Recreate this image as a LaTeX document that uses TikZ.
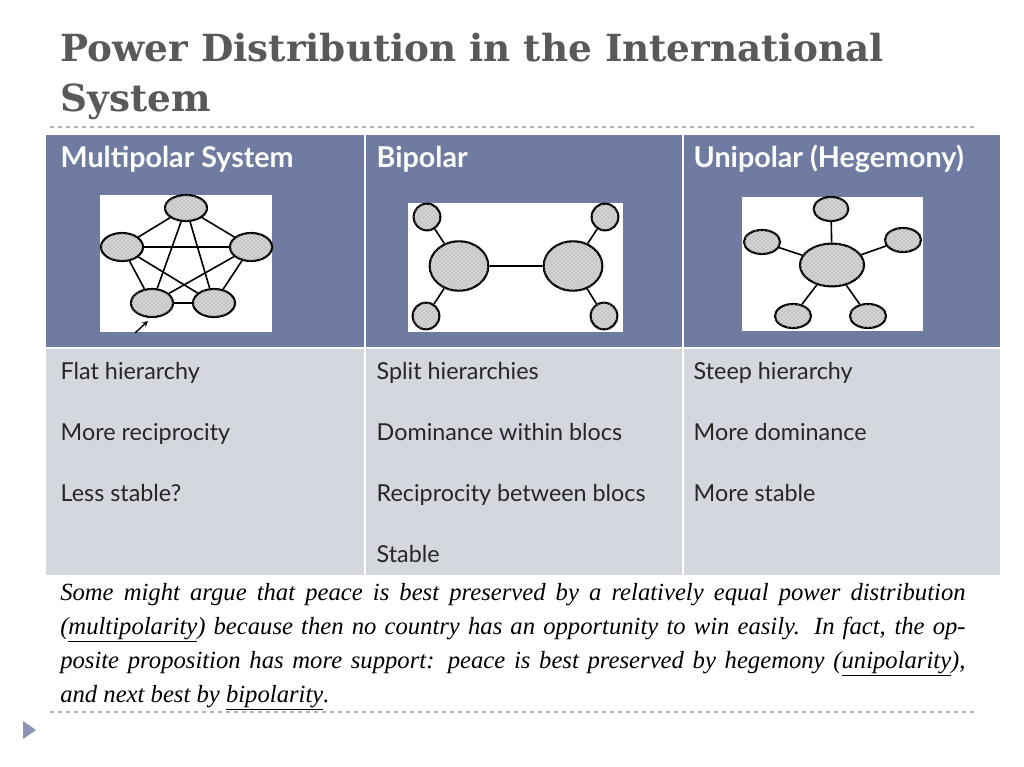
\documentclass[tikz,border=0pt]{standalone}
\usepackage{fontspec}
\setmainfont{Liberation Serif}
\setsansfont{Lato}
\newfontfamily\ttlfont{DejaVu Serif}
\usetikzlibrary{patterns,shapes.geometric}
\definecolor{hdr}{HTML}{6F7BA0}
\definecolor{bdy}{HTML}{D5D7DF}
\definecolor{ttl}{HTML}{595959}
\definecolor{dashc}{HTML}{A9B8C8}
\begin{document}
\begin{tikzpicture}[x=0.75pt,y=-0.75pt,
  blob/.style={ellipse,draw=black,line width=1.6pt,fill=gray!45,postaction={pattern=crosshatch dots,pattern color=white},inner sep=0pt},
  lnk/.style={black,line width=1.2pt},
  hd/.style={anchor=base west,text=white,font=\sffamily\bfseries\fontsize{21.5}{24}\selectfont},
  bt/.style={anchor=base west,text=black!85,font=\sffamily\fontsize{17.5}{20}\selectfont},
  tt/.style={anchor=base west,text=ttl,font=\ttlfont\bfseries\fontsize{28}{32}\selectfont},
  pic/.style={fill=white,draw=none}]
\useasboundingbox (0,0) rectangle (1024,767);
\fill[white] (0,0) rectangle (1024,767);
% title
\node[tt] (t1) at (56,62) {Power Distribution in the International};
\node[tt] (t2) at (56,112) {System};
\draw[dashc,dashed,line width=0.8pt] (50,127) -- (975,127);
\draw[dashc,dashed,line width=0.8pt] (50,712) -- (975,712);
% table
\fill[hdr] (46,135) rectangle (1000,347);
\fill[bdy] (46,349) rectangle (1000,575);
\draw[white,line width=1.5pt] (365,135) -- (365,575) (683,135) -- (683,575);
\draw[white,line width=1.5pt] (46,348) -- (1000,348);
\node[hd] (h1) at (56,167) {Multipolar System};
\node[hd] (h2) at (372,167) {Bipolar};
\node[hd] (h3) at (689,167) {Unipolar (Hegemony)};
\node[bt] (c11) at (56,379) {Flat hierarchy};
\node[bt] (c12) at (56,440) {More reciprocity};
\node[bt] (c13) at (56,501) {Less stable?};
\node[bt] (c21) at (372,379) {Split hierarchies};
\node[bt] (c22) at (372,440) {Dominance within blocs};
\node[bt] (c23) at (372,501) {Reciprocity between blocs};
\node[bt] (c24) at (372,562) {Stable};
\node[bt] (c31) at (689,379) {Steep hierarchy};
\node[bt] (c32) at (689,440) {More dominance};
\node[bt] (c33) at (689,501) {More stable};
% multipolar
\fill[pic] (100,195) rectangle (272,332);
\node[blob,minimum width=31.5pt,minimum height=19.5pt] (m1) at (186,208) {};
\node[blob,minimum width=31.5pt,minimum height=21pt] (m2) at (122,247) {};
\node[blob,minimum width=31.5pt,minimum height=21pt] (m3) at (251,247) {};
\node[blob,minimum width=31.5pt,minimum height=21pt] (m4) at (152,303) {};
\node[blob,minimum width=31.5pt,minimum height=21pt] (m5) at (214,303) {};
\foreach \a/\b in {m1/m2,m1/m3,m1/m4,m1/m5,m2/m3,m2/m4,m2/m5,m3/m4,m3/m5,m4/m5}
  \draw[lnk] (\a) -- (\b);
\coordinate (ar1) at (135,333);
\coordinate (ar2) at (148,321);
\draw[-stealth,black,line width=1pt] (ar1) -- (ar2);
% bipolar
\fill[pic] (408,203) rectangle (623,332);
\node[blob,minimum width=44pt,minimum height=37pt] (b1) at (459,266) {};
\node[blob,minimum width=44pt,minimum height=37pt] (b2) at (573,266) {};
\node[blob,minimum width=20pt,minimum height=20pt] (s1) at (427,217) {};
\node[blob,minimum width=20pt,minimum height=20pt] (s2) at (605,217) {};
\node[blob,minimum width=20pt,minimum height=20pt] (s3) at (426,316) {};
\node[blob,minimum width=20pt,minimum height=20pt] (s4) at (604,316) {};
\draw[lnk] (b1) -- (b2) (b1) -- (s1) (b1) -- (s3) (b2) -- (s2) (b2) -- (s4);
% unipolar
\fill[pic] (742,197) rectangle (923,331);
\node[blob,minimum width=48pt,minimum height=32pt] (u0) at (832,265) {};
\node[blob,minimum width=26pt,minimum height=18pt] (u1) at (831,209) {};
\node[blob,minimum width=27pt,minimum height=18pt] (u2) at (762,242) {};
\node[blob,minimum width=27pt,minimum height=18pt] (u3) at (903,240) {};
\node[blob,minimum width=27pt,minimum height=18pt] (u4) at (793,316) {};
\node[blob,minimum width=27pt,minimum height=18pt] (u5) at (868,316) {};
\foreach \b in {u1,u2,u3,u4,u5} \draw[lnk] (u0) -- (\b);
% paragraph
\node[anchor=north west,text width=679pt,align=justify,inner sep=0pt,font=\itshape\fontsize{18.5}{25.5}\selectfont,text=black] (par) at (60,583)
{Some might argue that peace is best preserved by a relatively equal power distribution (\underline{multipolarity}) because then no country has an opportunity to win easily. In fact, the opposite proposition has more support: peace is best preserved by hegemony (\underline{unipolarity}), and next best by \underline{bipolarity}.};
\fill[hdr!80] (23,721) -- (36,730) -- (23,739) -- cycle;
\end{tikzpicture}
\end{document}
